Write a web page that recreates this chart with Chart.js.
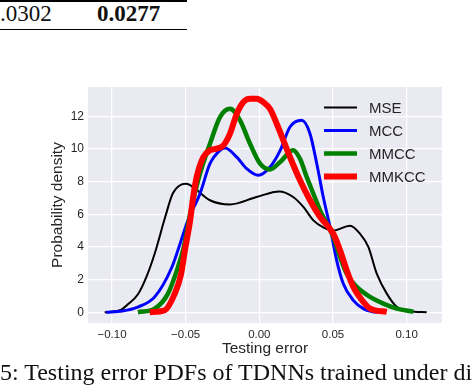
<!DOCTYPE html>
<html>
<head>
<meta charset="utf-8">
<script src="https://cdn.jsdelivr.net/npm/chart.js@4/dist/chart.umd.min.js"></script>
<style>
  body { margin: 0; background: #fff; width: 474px; height: 387px; overflow: hidden; position: relative; }
  .tbl { position: absolute; left: 0; top: 0; width: 187px; height: 30px; border-top: 2.5px solid #000; border-bottom: 1.5px solid #000; box-sizing: border-box; }
  .cell { position: absolute; top: 0px; font: 23px/23px "Liberation Serif", serif; color: #111; white-space: nowrap; }
  .caption { position: absolute; left: 0; top: 360px; font: 24px/24px "Liberation Serif", serif; color: #111; white-space: nowrap; }
  #pdf-chart { position: absolute; left: 0; top: 60px; }
</style>
</head>
<body>
<div class="tbl">
  <span class="cell" style="left:0px">.0302</span>
  <span class="cell" style="left:97px; font-weight:bold">0.0277</span>
</div>

<canvas id="pdf-chart" width="474" height="300"></canvas>

<div class="caption">5: Testing error PDFs of TDNNs trained under di</div>

<script>
// values
var mseX = [-0.105, -0.0946, -0.089, -0.0824, -0.0765, -0.071, -0.064, -0.0586, -0.0496, -0.044, -0.0335, -0.0199, -0.0018, 0.0135, 0.023, 0.0299, 0.0367, 0.0434, 0.0502, 0.0616, 0.0684, 0.074, 0.0797, 0.0865, 0.0933, 0.102, 0.1136];
var mseY = [0, 0.12, 0.5, 1.1, 2.2, 3.6, 5.8, 7.3, 7.87, 7.6, 6.86, 6.6, 7.06, 7.4, 7.06, 6.45, 5.63, 5.2, 5.0, 5.3, 4.8, 4.0, 2.36, 1.14, 0.33, 0.06, 0];

var mccX = [-0.104, -0.093, -0.0825, -0.071, -0.0593, -0.0538, -0.0484, -0.0403, -0.0335, -0.0267, -0.0233, -0.0153, -0.0086, -0.0007, 0.0073, 0.0141, 0.0208, 0.0288, 0.0344, 0.039, 0.0434, 0.048, 0.0525, 0.057, 0.0638, 0.0706, 0.077, 0.080];
var mccY = [0, 0.08, 0.32, 0.94, 2.77, 4.2, 5.65, 7.26, 9.1, 9.92, 10.06, 9.5, 8.8, 8.39, 8.9, 9.9, 11.35, 11.76, 10.94, 9.1, 7.06, 5.22, 3.18, 1.75, 0.73, 0.22, 0.03, 0];

var mmccX = [-0.0824, -0.071, -0.062, -0.0552, -0.0515, -0.047, -0.0403, -0.0335, -0.0267, -0.0199, -0.0131, -0.0063, 0.0005, 0.0073, 0.0141, 0.0229, 0.0276, 0.0322, 0.0367, 0.0412, 0.0458, 0.0502, 0.0548, 0.0593, 0.0661, 0.0752, 0.0842, 0.0933, 0.1045];
var mmccY = [0, 0.22, 1.14, 2.77, 3.9, 6.0, 8.49, 10.32, 11.96, 12.47, 11.76, 10.32, 9.1, 8.75, 9.2, 9.92, 9.4, 8.28, 7.26, 6.24, 5.43, 4.61, 3.39, 2.36, 1.55, 0.94, 0.53, 0.22, 0.03];

var mmkccX = [-0.0744, -0.0642, -0.0574, -0.0532, -0.0505, -0.047, -0.045, -0.0425, -0.038, -0.0335, -0.029, -0.0244, -0.0199, -0.0153, -0.0108, -0.0063, -0.0018, 0.0027, 0.0073, 0.0118, 0.0208, 0.0276, 0.0344, 0.0412, 0.0502, 0.0548, 0.0593, 0.0638, 0.0706, 0.0752, 0.0865];
var mmkccY = [0, 0.12, 1.14, 2.3, 3.8, 5.6, 7.0, 8.3, 9.51, 9.92, 10.02, 10.22, 10.94, 12.16, 12.88, 13.08, 13.08, 12.88, 12.45, 11.55, 9.51, 8.08, 6.86, 5.84, 4.81, 3.8, 2.57, 1.55, 0.63, 0.22, 0.02];

var xTicks = [-0.10, -0.05, 0.00, 0.05, 0.10];
var yTicks = [0, 2, 4, 6, 8, 10, 12];

function toPoints( xs, ys ) {
  return xs.map(function (x, i) { return { x: x, y: ys[i] }; });
}

function makeSet( label, xs, ys, color, width, order ) {
  return {
    label: label,
    data: toPoints( xs, ys ),
    borderColor: color,
    borderWidth: width,
    pointRadius: 0,
    fill: false,
    cubicInterpolationMode: 'monotone',
    order: order
  };
}

// seaborn darkgrid background
var plotBg = {
  id: 'plotBg',
  beforeDraw: function (chart) {
    var a = chart.chartArea, ctx = chart.ctx;
    ctx.save();
    ctx.fillStyle = '#EAEAF2';
    ctx.fillRect(a.left, a.top, a.right - a.left, a.bottom - a.top);
    ctx.restore();
  }
};

// legend drawn inside the axes, top right
var insideLegend = {
  id: 'insideLegend',
  afterDatasetsDraw: function (chart) {
    var a = chart.chartArea, ctx = chart.ctx;
    ctx.save();
    ctx.font = '15px "Liberation Sans", Arial, sans-serif';
    ctx.textBaseline = 'middle';
    chart.data.datasets.forEach(function (ds, i) {
      var y = a.top + 20.5 + i * 23;
      ctx.strokeStyle = ds.borderColor;
      ctx.lineWidth = ds.borderWidth;
      ctx.beginPath();
      ctx.moveTo(a.right - 118, y);
      ctx.lineTo(a.right - 85, y);
      ctx.stroke();
      ctx.fillStyle = '#262626';
      ctx.fillText(ds.label, a.right - 73, y + 1);
    });
    ctx.restore();
  }
};

var axisFont = { family: '"Liberation Sans", Arial, sans-serif', size: 11.5 };
var titleFont = { family: '"Liberation Sans", Arial, sans-serif', size: 15.5 };

var pdfChart = new Chart(
  document.getElementById('pdf-chart').getContext('2d'),
  {
    type: 'line',
    data: {
      datasets: [
        makeSet('MSE', mseX, mseY, '#000000', 2, 4),
        makeSet('MCC', mccX, mccY, '#0000ff', 3, 3),
        makeSet('MMCC', mmccX, mmccY, '#008000', 4.5, 2),
        makeSet('MMKCC', mmkccX, mmkccY, '#ff0000', 6, 1)
      ]
    },
    options: {
      responsive: false,
      animation: false,
      layout: { padding: { top: 27, right: 32, left: 0, bottom: 0 } },
      plugins: { legend: { display: false }, tooltip: { enabled: false } },
      scales: {
        x: {
          type: 'linear',
          min: -0.1163,
          max: 0.124,
          afterBuildTicks: function (s) { s.ticks = xTicks.map(function (v) { return { value: v }; }); },
          afterFit: function (s) { s.height = 37; },
          grid: { color: '#ffffff', lineWidth: 1.2, drawTicks: false },
          border: { display: false },
          ticks: {
            padding: 5,
            color: '#262626',
            font: axisFont,
            callback: function (v) { return (v < -1e-9 ? '\u2212' : '') + Math.abs(v).toFixed(2); }
          },
          title: { display: true, text: 'Testing error', color: '#262626', font: titleFont, padding: { top: 0, bottom: 2 } }
        },
        y: {
          min: -0.66,
          max: 13.8,
          afterBuildTicks: function (s) { s.ticks = yTicks.map(function (v) { return { value: v }; }); },
          afterFit: function (s) { s.width = 88; },
          grid: { color: '#ffffff', lineWidth: 1.2, drawTicks: false },
          border: { display: false },
          ticks: { padding: 4, color: '#262626', font: { family: axisFont.family, size: 12 } },
          title: { display: true, text: 'Probability density', color: '#262626', font: titleFont, padding: { top: 48.7, bottom: 0 } }
        }
      }
    },
    plugins: [plotBg, insideLegend]
  }
);
</script>
</body>
</html>
